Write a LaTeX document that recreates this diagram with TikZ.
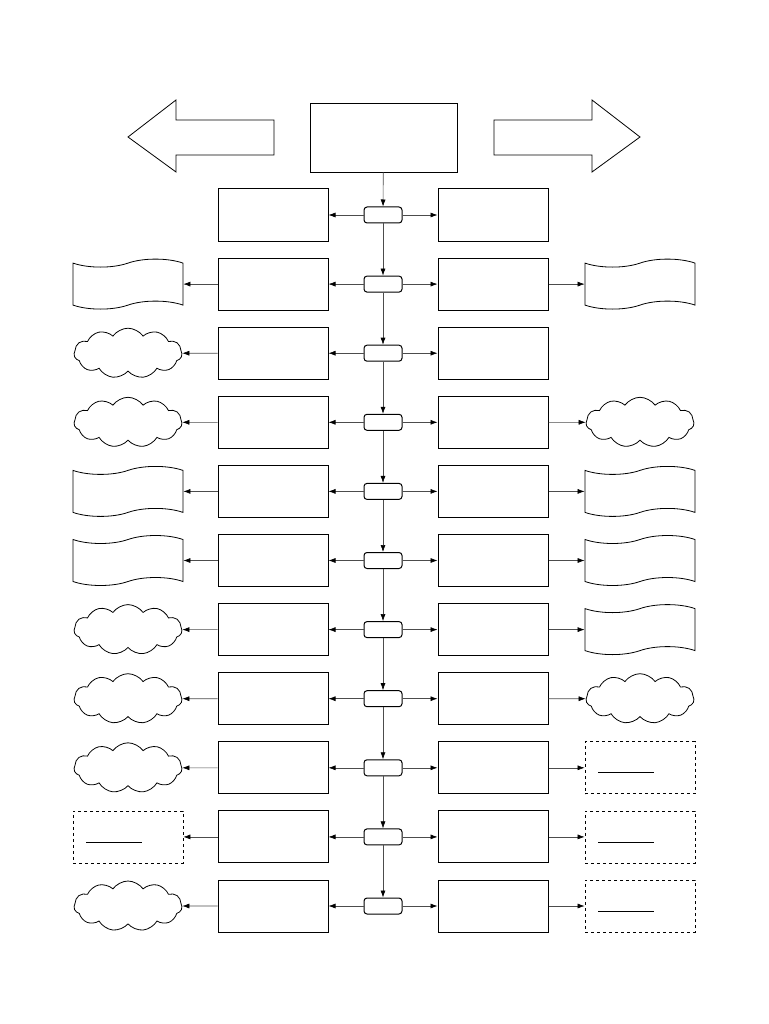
\documentclass[tikz,border=0pt]{standalone}
\usetikzlibrary{shapes.symbols,arrows.meta}
\begin{document}
\begin{tikzpicture}[x=1pt,y=-1pt,line width=0.8pt,
  bx/.style={draw,line width=1pt,minimum width=110pt,minimum height=52pt,inner sep=0pt},
  sm/.style={draw,line width=1pt,rounded corners=3pt,minimum width=38pt,minimum height=16pt,inner sep=0pt},
  cl/.style={draw,cloud,cloud puffs=11,cloud puff arc=110,aspect=2,minimum width=108pt,minimum height=50pt,inner sep=0pt},
  wv/.style={draw,tape,tape bend top=in and out,tape bend bottom=in and out,tape bend height=8pt,minimum width=110pt,minimum height=50pt,inner sep=0pt},
  db/.style={draw,dashed,minimum width=110pt,minimum height=52pt,inner sep=0pt},
  ar/.style={-{Latex[length=7pt,width=5pt,black]},gray!60!black,line width=0.6pt}]
\useasboundingbox (0,0) rectangle (768,1024);
\node[draw,minimum width=147pt,minimum height=69pt,inner sep=0pt] (top) at (383.5,137.5) {};
\draw (128,137) -- (176,100) -- (176,120) -- (274,120) -- (274,155) -- (176,155) -- (176,172) -- cycle;
\draw (640,137) -- (592,100) -- (592,120) -- (494,120) -- (494,155) -- (592,155) -- (592,172) -- cycle;
\foreach \i/\L/\R in {0/n/n,1/w/w,2/c/n,3/c/c,4/w/w,5/w/w,6/c/w,7/c/c,8/c/d,9/d/d,10/c/d}{
  \pgfmathsetmacro{\yy}{215+69.1*\i}
  \node[sm] (s\i) at (383,\yy) {};
  \node[bx] (l\i) at (273,\yy) {};
  \node[bx] (r\i) at (493,\yy) {};
  \draw[ar] (s\i) -- (l\i);
  \draw[ar] (s\i) -- (r\i);
  \if\L c\node[cl] (fl\i) at (128,\yy) {};\fi
  \if\L w\node[wv] (fl\i) at (128,\yy) {};\fi
  \if\L d\node[db] (fl\i) at (128,\yy) {};\draw (86,\yy+5) -- (142,\yy+5);\fi
  \if\L n\else\draw[ar] (l\i) -- (fl\i);\fi
  \if\R c\node[cl] (fr\i) at (640,\yy) {};\fi
  \if\R w\node[wv] (fr\i) at (640,\yy) {};\fi
  \if\R d\node[db] (fr\i) at (640,\yy) {};\draw (598,\yy+5) -- (654,\yy+5);\fi
  \if\R n\else\draw[ar] (r\i) -- (fr\i);\fi
}
\draw[ar] (top) -- (s0);
\foreach \i [evaluate=\i as \j using int(\i+1)] in {0,...,9}{\draw[ar] (s\i) -- (s\j);}
\end{tikzpicture}
\end{document}
